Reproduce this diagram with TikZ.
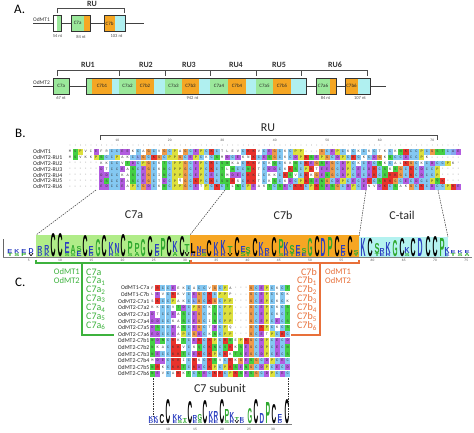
\documentclass[tikz,border=0pt]{standalone}
\usepackage{fontspec}
\usepackage{graphicx}
\setmainfont{Carlito}
\newfontfamily\logofont{Liberation Sans}
\newfontfamily\seqfont{Liberation Mono}
\usetikzlibrary{calc}
\definecolor{aC}{HTML}{84C8F2}
\definecolor{aK}{HTML}{E8322C}
\definecolor{aD}{HTML}{B35CE0}
\definecolor{aG}{HTML}{EE9A4A}
\definecolor{aP}{HTML}{DDE03C}
\definecolor{aS}{HTML}{44D044}
\definecolor{aA}{HTML}{86A8F0}
\definecolor{boxgreen}{HTML}{9BE89B}
\definecolor{boxorange}{HTML}{F5A623}
\definecolor{boxcyan}{HTML}{B0F0F0}
\definecolor{lgreen}{HTML}{3DB23D}
\definecolor{lorange}{HTML}{E8703A}
\definecolor{Lb}{HTML}{2C3FC0}
\definecolor{Lg}{HTML}{2EA82E}
\definecolor{Lk}{HTML}{000000}
\definecolor{bgreen}{HTML}{B0EC88}
\definecolor{borange}{HTML}{F6A623}
\definecolor{bcyan}{HTML}{B4F2F0}
\makeatletter
\def\defcol#1#2{\expandafter\def\csname sc@#1\endcsname{#2}}
\defcol C{aC}\defcol K{aK}\defcol R{aK}\defcol D{aD}\defcol E{aD}
\defcol G{aG}\defcol P{aP}\defcol S{aS}\defcol T{aS}\defcol N{aS}\defcol Q{aS}
\defcol A{aA}\defcol V{aA}\defcol I{aA}\defcol L{aA}\defcol M{aA}\defcol F{aA}
\newcount\sr@i
\newcommand\setseqgrid[3]{\def\sr@pitch{#1}\def\sr@hw{#2}\def\sr@hh{#3}}
\newcommand\seqrow[4]{\def\sr@nm{#1}\def\sr@x{#2}\def\sr@y{#3}\sr@i=0 \sr@loop#4\relax}
\def\sr@loop#1{\ifx#1\relax\expandafter\@gobble\else\expandafter\@firstofone\fi
  {\sr@cell{#1}\advance\sr@i by 1 \sr@loop}}
\def\sr@cell#1{%
  \pgfmathsetmacro\sr@cx{\sr@x+\the\sr@i*\sr@pitch}%
  \ifcsname sc@#1\endcsname\edef\sr@c{\csname sc@#1\endcsname}\else\def\sr@c{white}\fi
  \fill[fill=\sr@c] ({\sr@cx-\sr@hw},{\sr@y-\sr@hh}) rectangle ({\sr@cx+\sr@hw},{\sr@y+\sr@hh});%
  \edef\sr@name{\sr@nm-\the\sr@i}%
  \node[seqletter] (\sr@name) at (\sr@cx,\sr@y) {\uppercase{#1}};%
}
\makeatother
\newcommand\lgletter[6]{\node[inner sep=0pt, anchor=south, text=#5] (#6) at (#1,{\lgbase-#3-(#3>0)*0.5}) {\resizebox{\lgw}{#4pt}{\logofont\bfseries #2}};}
\tikzset{
  seqletter/.style={inner sep=0pt, font=\seqfont\fontsize{3.6}{3.6}\selectfont, text=black!80},
  genebox/.style={draw=black!80, line width=0.6pt},
  gline/.style={draw=black!75, line width=0.8pt},
  bracket/.style={draw=black!70, line width=0.6pt},
  tinylab/.style={inner sep=0pt, font=\fontsize{4.5}{5}\selectfont, text=black!70},
  boxlab/.style={inner sep=0pt, font=\fontsize{5}{6}\selectfont, text=black!85},
  rulab/.style={inner sep=0pt, font=\bfseries\fontsize{8}{9}\selectfont, text=black!80},
  seclab/.style={inner sep=0pt, anchor=base west, font=\fontsize{13}{14}\selectfont},
  rowlab/.style={inner sep=0pt, font=\fontsize{5.8}{6}\selectfont, text=black!85},
  ruler/.style={inner sep=0pt, font=\fontsize{3.5}{4}\selectfont, text=black!70},
  dashconn/.style={draw=black!80, dash pattern=on 1.5pt off 1pt, line width=0.5pt},
  biglab/.style={inner sep=0pt, font=\fontsize{12}{13}\selectfont, text=black!85},
  glab/.style={inner sep=0pt, text=lgreen, font=\fontsize{10}{11}\selectfont},
  olab/.style={inner sep=0pt, text=lorange, font=\fontsize{10}{11}\selectfont},
  gsmall/.style={inner sep=0pt, text=lgreen, font=\fontsize{8.5}{9}\selectfont},
  osmall/.style={inner sep=0pt, text=lorange, font=\fontsize{8.5}{9}\selectfont},
  gbr/.style={draw=lgreen, line width=1.3pt},
  obr/.style={draw=lorange, line width=1.3pt},
}
\begin{document}
\begin{tikzpicture}[x=1pt,y=-1pt]
\useasboundingbox (0,0) rectangle (474,432);
\fill[white] (0,0) rectangle (474,432);
% ================= A =================
\node[seclab] (labA) at (14,13.3) {A.};
\coordinate (m1s) at (33,23.3); \coordinate (m1e) at (144,23.3);
\draw[gline] (m1s) -- (m1e);
\node[inner sep=0pt, anchor=south west, font=\fontsize{5.5}{6}\selectfont, text=black!80] (m1lab) at (33,21.8) {OdMT1};
\fill[white] (53.3,15) rectangle (57.3,31.7);
\fill[boxgreen] (57.3,15) rectangle (61,31.7);
\draw[genebox] (53.3,15) rectangle (61,31.7);
\fill[boxgreen] (71,15) rectangle (84.3,31.7);
\fill[boxorange] (84.3,15) rectangle (90.7,31.7);
\draw[genebox] (71,15) rectangle (90.7,31.7);
\node[boxlab] (a1c7a) at (77.6,23.3) {C7a};
\fill[boxorange] (104,15) rectangle (115,31.7);
\fill[boxcyan] (115,15) rectangle (125.3,31.7);
\draw[genebox] (104,15) rectangle (125.3,31.7);
\node[boxlab] (a1c7b) at (109.5,23.3) {C7b};
\node[tinylab] (nt1) at (57.5,36.5) {54 nt};
\node[tinylab] (nt2) at (81,36.5) {84 nt};
\node[tinylab] (nt3) at (116.5,36.5) {103 nt};
\draw[bracket] (57.3,13.3) -- (57.3,8) -- (124,8) -- (124,13.3);
\node[rulab] (ruA) at (92,4) {RU};
% OdMT2
\coordinate (m2s) at (33,86); \coordinate (m2e) at (386,86);
\draw[gline] (m2s) -- (m2e);
\node[inner sep=0pt, anchor=south west, font=\fontsize{5.5}{6}\selectfont, text=black!80] (m2lab) at (33,85) {OdMT2};
\fill[boxgreen] (53.3,78.3) rectangle (69,94.3);
\draw[genebox] (53.3,78.3) rectangle (69,94.3);
\node[boxlab] (b0) at (61.2,86) {C7a};
\foreach \a/\b/\c in {86/92/boxgreen,92/112/boxorange,112/119/boxcyan,119/136/boxgreen,136/154/boxorange,154/165/boxcyan,165/182/boxgreen,182/199/boxorange,199/210/boxcyan,210/228/boxgreen,228/246/boxorange,246/256/boxcyan,256/273/boxgreen,273/291/boxorange,291/306/boxcyan,316/330/boxgreen,330/336/boxorange,345/358/boxorange,358/370/boxcyan}
  {\fill[fill=\c] (\a,78.3) rectangle (\b,94.3);}
\draw[genebox] (86,78.3) rectangle (306,94.3);
\draw[genebox] (316,78.3) rectangle (336,94.3);
\draw[genebox] (345,78.3) rectangle (370,94.3);
\foreach \x/\t [count=\i] in {102/C7b1,127.5/C7a2,145/C7b2,173.5/C7a3,190.5/C7b3,219/C7a4,237/C7b4,264.5/C7a5,282/C7b5,323/C7a6,351.5/C7b6}
  {\node[boxlab] (seg\i) at (\x,86) {\t};}
\node[tinylab] (nt4) at (61,98) {67 nt};
\node[tinylab] (nt5) at (192.5,98) {942 nt};
\node[tinylab] (nt6) at (325.5,98) {84 nt};
\node[tinylab] (nt7) at (360,98) {107 nt};
\draw[bracket] (57.3,76) -- (57.3,70.7) -- (367.7,70.7) -- (367.7,76);
\foreach \x in {119.3,165,210,256,301} {\draw[bracket] (\x,70.7) -- (\x,76);}
\foreach \x/\t [count=\i] in {88/RU1,146/RU2,189/RU3,236/RU4,279/RU5,335/RU6}
  {\node[rulab] (ru\i) at (\x,65) {\t};}
% ================= B =================
\node[seclab] (labB) at (15,137) {B.};
\draw[bracket] (100,140) -- (100,135) -- (437,135) -- (437,140);
\node[biglab] (ruB) at (268,128) {RU};
\foreach \n in {10,20,...,70} {\node[ruler] (rb\n) at ({70+(\n-1)*5.25},140) {\n};}
\foreach \i in {0,...,74} {\fill[black!50] ({70+\i*5.25},145) circle (0.35);}
\setseqgrid{5.25}{2.55}{2.8}
\seqrow{B0}{70}{151.7}{mSPvcEfrCCEEkCaGCvGCPaGCEPCKCtlevCKKvCEGCkCPP---GCEPCkCkCkCtkCkNKCCPCGSTCAE}
\seqrow{B1}{70}{157.55}{mSvkkPSCCPakCLGCKGCPPGCEPCkCSmDCEknKCESGCkCDPKSEPGCDPCKCkCDGkSCCDCCPk------}
\seqrow{B2}{70}{163.4}{------kkCCvTDCPGCkTCPPGCEPCKCSNkaCKKvCkQCkkNCKEGSEGCDPCkCECSkCalKGCkCDCCPk-}
\seqrow{B3}{70}{169.25}{------DtCCEaSCEGCkNCPPGCEPCKCTlNCCNKtCDDCkKSCPKtEEGCDPCECDRCSkSGCKCDCCP----}
\seqrow{B4}{70}{175.1}{------DDCCkaSCEGCiNCPPGCEPCECSmDECKKiCkkCKSvCKkGESGCDPCECDKCSRKGCKCDCCP----}
\seqrow{B5}{70}{180.95}{------DSCCEaSCEGCtDCPqGCKPCKCSNRsCKKtCkSCkDCPKSENGCDPCECDKCSRKGCECDCCPQK---}
\seqrow{B6}{70}{186.8}{------EDCCEaPCGDCkNCPPGCEtPCKCTlNCPEakTCSECKRCPKSESGCDPCEnvDKCSakGCKCDCCPKE}
\foreach \t [count=\i] in {OdMT1,OdMT2-RU1,OdMT2-RU2,OdMT2-RU3,OdMT2-RU4,OdMT2-RU5,OdMT2-RU6}
  {\node[rowlab, anchor=west] (brow\i) at (33,{151.7+(\i-1)*5.85}) {\t};}
% dashed connectors
\coordinate (b1s) at (96,190); \coordinate (b1e) at (36,235);
\coordinate (b2s) at (225,190); \coordinate (b2e) at (190,235);
\coordinate (b3s) at (366,190); \coordinate (b3e) at (359,237);
\coordinate (b4s) at (438,190); \coordinate (b4e) at (448,237);
\draw[dashconn] (b1s) -- (b1e);
\draw[dashconn] (b2s) -- (b2e);
\draw[dashconn] (b3s) -- (b3e);
\draw[dashconn] (b4s) -- (b4e);
\node[biglab] (t7a) at (134,215) {C7a};
\node[biglab] (t7b) at (283,215) {C7b};
\node[biglab] (tct) at (402,215) {C-tail};
% logo B
\fill[bgreen] (36,235) rectangle (190,257);
\fill[borange] (190,235) rectangle (359,257);
\fill[bcyan] (359,237) rectangle (448,257);
\draw[black!50, line width=0.3pt] (3,257.3) -- (472,257.3);
\draw[black!60, line width=0.9pt] (3,239) -- (3,257);
\def\lgbase{257}\def\lgw{5.0pt}
\foreach \x/\l/\b/\h/\c [count=\i] in {
10/T/0/3/Lg,10/E/3/4/Lb,17/S/0/3/Lg,17/K/3/4/Lb,24/P/0/3/Lg,24/E/3/4/Lb,31/V/0/3/Lk,31/D/3/5/Lb,
40/D/0/4/Lb,40/R/4/6/Lb,47/K/0/4/Lb,47/R/4/7/Lb,53/C/0/23/Lk,60/C/0/23/Lk,
67/S/0/3/Lg,67/E/3/11/Lb,73/S/0/3/Lg,73/A/3/8/Lg,79/E/0/5/Lb,79/S/5/5/Lg,85/C/0/21/Lk,
91/D/0/3/Lb,91/E/3/7/Lb,98/G/0/17/Lg,104/C/0/21/Lk,111/R/0/3/Lb,111/K/3/11/Lb,
117/S/0/3/Lg,117/N/3/10/Lb,123/C/0/22/Lk,130/S/0/3/Lg,130/P/3/12/Lg,137/A/0/4/Lg,137/P/4/9/Lg,
143/G/0/17/Lg,150/C/0/20/Lk,157/D/0/4/Lb,157/E/4/8/Lb,163/P/0/18/Lg,169/C/0/20/Lk,
175/A/0/4/Lg,175/K/4/11/Lb,182/C/0/20/Lk,187/V/0/4/Lk,187/T/4/8/Lg,
193/N/0/3/Lb,193/L/3/10/Lk,199/D/0/4/Lb,199/N/4/6/Lb,204/S/0/3/Lg,204/E/3/4/Lb,
209/C/0/16/Lk,216/R/0/3/Lb,216/K/3/11/Lb,223/R/0/3/Lb,223/K/3/13/Lb,230/V/0/3/Lk,230/T/3/7/Lg,
237/C/0/19/Lk,243/S/0/4/Lg,243/E/4/6/Lb,248/T/0/3/Lg,248/S/3/6/Lg,255/C/0/18/Lk,
261/R/0/3/Lb,261/K/3/11/Lb,267/E/0/3/Lb,267/R/3/5/Lb,274/C/0/19/Lk,281/S/0/3/Lg,281/P/3/14/Lg,
286/R/0/3/Lb,286/K/3/11/Lb,292/T/0/3/Lg,292/S/3/8/Lg,298/D/0/3/Lb,298/E/3/8/Lb,304/E/0/3/Lb,304/S/3/5/Lg,
310/G/0/18/Lg,317/C/0/20/Lk,323/D/0/18/Lb,330/P/0/19/Lg,337/C/0/20/Lk,343/D/0/4/Lb,343/E/4/7/Lb,
350/C/0/20/Lk,356/T/0/2/Lg,356/S/2/4/Lg,
363/K/0/18/Lb,370/C/0/18/Lk,377/T/0/3/Lg,377/S/3/10/Lg,382/E/0/3/Lb,382/R/3/5/Lb,
388/R/0/3/Lb,388/K/3/11/Lb,395/G/0/16/Lg,402/C/0/18/Lk,407/S/0/3/Lg,407/K/3/6/Lb,
413/C/0/18/Lk,420/D/0/18/Lb,428/C/0/20/Lk,435/C/0/20/Lk,442/P/0/18/Lg,447/E/0/3/Lb,447/K/3/6/Lb,
453/T/0/3/Lg,453/E/3/3/Lb,460/S/0/3/Lg,460/K/3/3/Lb,467/A/0/3/Lg,467/E/3/3/Lb}
  {\lgletter{\x}{\l}{\b}{\h}{\c}{lb\i}}
\foreach \n in {5,10,...,75} {\node[ruler] (rl\n) at ({60+(\n-10)*6.25},260.8) {\n};}
% brackets
\draw[gbr] (36,259.5) -- (36,263) -- (190,263) -- (190,259.5);
\draw[obr] (191,259.5) -- (191,263) -- (359,263) -- (359,259.5);
\coordinate (gv1) at (82,263); \coordinate (gv2) at (82,335); \coordinate (gv3) at (114,335);
\coordinate (ov1) at (320,263); \coordinate (ov2) at (320,335); \coordinate (ov3) at (291,335);
\draw[gbr] (gv1) -- (gv2) -- (gv3);
\draw[obr] (ov1) -- (ov2) -- (ov3);
% ================= C =================
\node[seclab] (labC) at (15,286) {C.};
\node[gsmall, anchor=east] (gOd1) at (80,272) {OdMT1};
\node[gsmall, anchor=east] (gOd2) at (80,281) {OdMT2};
\node[glab, anchor=west] (ga0) at (86,272) {C7a};
\foreach \k in {1,...,6} {\node[glab, anchor=west] (ga\k) at (86,{272+9*\k}) {C7a\textsubscript{\k}};}
\node[osmall, anchor=west] (oOd1) at (325,272) {OdMT1};
\node[osmall, anchor=west] (oOd2) at (325,281) {OdMT2};
\node[olab, anchor=east] (ob0) at (317,272) {C7b};
\foreach \k in {1,...,6} {\node[olab, anchor=east] (ob\k) at (317,{272+9*\k}) {C7b\textsubscript{\k}};}
\setseqgrid{5.2}{2.5}{3.1}
\seqrow{C0}{152.5}{288}{fRCCEekCaCCvGCPa---GCEPCkCT}
\seqrow{C1}{152.5}{294.6}{lEvCKkvCEGCKCPPp---GCEPCkCk}
\seqrow{C2}{152.5}{301.2}{sKCCPakCLGCKGCPP---GCEPCkCk}
\seqrow{C3}{152.5}{307.8}{kkCCvTDCPGCkTCPP---GCEPCkCS}
\seqrow{C4}{152.5}{314.4}{DtCCEaSCEGCkNCPP---GCEPCkCT}
\seqrow{C5}{152.5}{321}{DDCCkaSCEGCiNCPP---GCEPCECS}
\seqrow{C6}{152.5}{327.6}{DSCCEaSCEGCtDCPq---GCKPCkCS}
\seqrow{C7}{152.5}{334.2}{EDCCEaPCGDCkNCPP---GCEtPCKC}
\seqrow{C8}{152.5}{340.8}{NDNCKkTCEKCKPCRNePKGCDPCECD}
\seqrow{C9}{152.5}{347.4}{NkaCKKvCkQCKNCSKkSEGCDPCECN}
\seqrow{C10}{152.5}{354}{NECCKKTCEKCKPCKkTSEGCDPCECS}
\seqrow{C11}{152.5}{360.6}{mDECKKiCKkCKSvCKkGESGCDPCEC}
\seqrow{C12}{152.5}{367.2}{NRkCKKTCKDCKPCPKSENGCDPCECD}
\seqrow{C13}{152.5}{373.8}{NEvCaKkTCSECKRCPKSESGCDPCEC}
\foreach \t [count=\i] in {OdMT1-C7a,OdMT1-C7b,OdMT2-C7a1,OdMT2-C7a2,OdMT2-C7a3,OdMT2-C7a4,OdMT2-C7a5,OdMT2-C7a6,OdMT2-C7b1,OdMT2-C7b2,OdMT2-C7b3,OdMT2-C7b4,OdMT2-C7b5,OdMT2-C7b6}
  {\node[rowlab, anchor=east] (crow\i) at (149.5,{288+(\i-1)*6.6}) {\t};}
\coordinate (cl1) at (153,378); \coordinate (cl2) at (153,417);
\coordinate (cr1) at (288,378); \coordinate (cr2) at (288,417);
\draw[dashconn] (cl1) -- (cl2);
\draw[dashconn] (cr1) -- (cr2);
\node[biglab] (c7sub) at (220,388) {C7 subunit};
\draw[black!50, line width=0.3pt] (149,424.3) -- (292,424.3);
\def\lgbase{424}\def\lgw{4.6pt}
\foreach \x/\l/\b/\h/\c [count=\i] in {
151/D/0/3/Lb,151/K/3/4/Lb,156/N/0/3/Lb,156/K/3/4/Lb,162/C/0/9/Lk,168/C/0/24/Lk,
175/E/0/3/Lb,175/K/3/6/Lb,180/S/0/3/Lg,180/K/3/5/Lb,185/A/0/2/Lg,185/T/2/3/Lg,
190/C/0/22/Lk,195/E/0/3/Lb,195/R/3/5/Lb,200/S/0/3/Lg,200/G/3/6/Lg,205/C/0/23/Lk,
211/R/0/3/Lb,211/K/3/9/Lb,216/E/0/3/Lb,216/R/3/9/Lb,222/C/0/24/Lk,227/S/0/3/Lg,227/P/3/11/Lg,
232/R/0/3/Lb,232/K/3/8/Lb,237/V/0/3/Lk,237/T/3/3/Lg,242/D/0/3/Lb,242/E/3/3/Lb,
250/G/0/15/Lg,256/C/0/24/Lk,262/D/0/10/Lb,268/P/0/21/Lg,274/C/0/19/Lk,280/D/0/3/Lb,280/E/3/6/Lb,287/C/0/24/Lk}
  {\lgletter{\x}{\l}{\b}{\h}{\c}{lc\i}}
\foreach \n/\x in {10/168,15/195,20/222,25/249,30/273} {\node[ruler] (rc\n) at (\x,429.5) {\n};}
\end{tikzpicture}
\end{document}
